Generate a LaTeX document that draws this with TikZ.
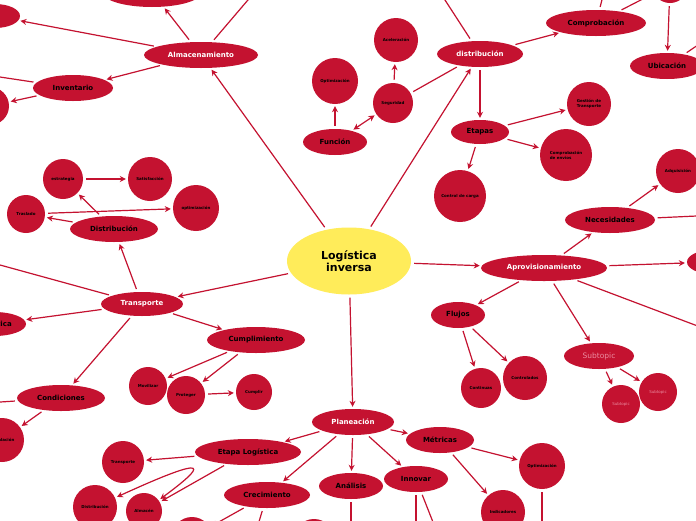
\documentclass[tikz,border=0pt]{standalone}
\usepackage{fontspec}
\setmainfont{DejaVu Sans}
\usetikzlibrary{shapes.geometric,arrows.meta}
\definecolor{mmred}{RGB}{196,18,48}
\definecolor{mmyellow}{RGB}{255,236,90}
\definecolor{mmpink}{RGB}{235,140,160}
\tikzset{
  en/.style={ellipse, fill=mmred, inner sep=0pt, font=\bfseries\fontsize{7}{8}\selectfont},
  wt/.style={text=white},
  bt/.style={text=black},
  cn/.style={circle, fill=mmred, inner sep=0pt, align=center, font=\bfseries\fontsize{4}{5}\selectfont},
  conn/.style={draw=mmred, line width=1.2pt, shorten <=3pt, shorten >=2pt, -{Stealth[length=6pt,width=6pt]}},
  biconn/.style={draw=mmred, line width=1.2pt, shorten <=2pt, shorten >=2pt, {Stealth[length=6pt,width=6pt]}-{Stealth[length=6pt,width=6pt]}},
  plain/.style={draw=mmred, line width=1.2pt, shorten <=3pt, shorten >=3pt},
}
\begin{document}
\begin{tikzpicture}[x=1pt,y=-1pt]
\useasboundingbox (0,0) rectangle (696,520);
\clip (0,0) rectangle (696,520);
\fill[white] (0,0) rectangle (696,520);

% centre
\node[ellipse, fill=mmyellow, inner sep=0pt, minimum width=124, minimum height=67, align=center, font=\bfseries\fontsize{11}{12}\selectfont] (ctr) at (349,261) {Logística\\inversa};

% Almacenamiento branch
\node[en,wt,minimum width=114,minimum height=26] (alm) at (201,55) {Almacenamiento};
\node[en,minimum width=100,minimum height=30] (topov) at (152,-8) {};
\node[en,minimum width=50,minimum height=24] (lftov) at (-5,16) {};
\node[en,bt,minimum width=80,minimum height=26] (inv) at (73,88) {Inventario};
\node[cn,minimum size=38] (lftc) at (-10,106) {};
\coordinate (offA) at (265,-20);
\coordinate (offInv) at (-40,71);

% Función cluster
\node[en,bt,minimum width=64,minimum height=26] (fun) at (335,142) {Función};
\node[cn,minimum size=46] (opt1) at (335,81) {Optimización};
\node[cn,minimum size=40] (seg) at (393,103) {Seguridad};
\node[cn,minimum size=44] (acel) at (396,40) {Aceleración};

% distribución branch
\node[en,wt,minimum width=86,minimum height=26] (dis) at (480,54) {distribución};
\coordinate (offD) at (432,-20);
\node[en,bt,minimum width=100,minimum height=26] (comp) at (596,23) {Comprobación};
\coordinate (offC) at (605,-12);
\node[cn,minimum size=36] (trc) at (670,-15) {};
\node[en,bt,minimum width=74,minimum height=26] (ubi) at (667,66) {Ubicación};
\coordinate (offU) at (720,30);
\node[en,bt,minimum width=58,minimum height=24] (eta) at (480,132) {Etapas};
\node[cn,minimum size=44,align=left] (gest) at (589,104) {Gestión de\\Transporte};
\node[cn,minimum size=52,align=left] (cenv) at (566,155) {Comprobación\\de envíos};
\node[cn,minimum size=52] (ccar) at (460,196) {Control de carga};

% Aprovisionamiento branch
\node[en,wt,minimum width=126,minimum height=26] (apr) at (544,268) {Aprovisionamiento};
\node[en,bt,minimum width=90,minimum height=26] (nec) at (610,220) {Necesidades};
\node[cn,minimum size=44] (adq) at (678,171) {Adquisición};
\coordinate (offN) at (740,214);
\node[en,minimum width=50,minimum height=24] (rov) at (712,262) {};
\coordinate (offAp) at (740,342);
\node[en,bt,minimum width=54,minimum height=26] (flu) at (458,315) {Flujos};
\node[cn,minimum size=40] (cont) at (481,388) {Continuas};
\node[cn,minimum size=44] (ctrl) at (525,378) {Controlados};
\node[en,minimum width=70,minimum height=26,font=\fontsize{7.5}{8}\selectfont,text=mmpink] (sub) at (599,356) {Subtopic};
\node[cn,minimum size=38,font=\fontsize{4}{5}\selectfont,text=mmpink] (sub1) at (621,404) {Subtopic};
\node[cn,minimum size=38,font=\fontsize{4}{5}\selectfont,text=mmpink] (sub2) at (658,392) {Subtopic};

% Transporte branch
\node[en,wt,minimum width=82,minimum height=24] (tra) at (142,304) {Transporte};
\node[en,bt,minimum width=88,minimum height=26] (dil) at (114,229) {Distribución};
\node[cn,minimum size=40] (est) at (63,179) {estrategia};
\node[cn,minimum size=44] (sat) at (150,179) {Satisfacción};
\node[cn,minimum size=46] (opt2) at (196,208) {optimización};
\node[cn,minimum size=38] (tras) at (26,214) {Traslado};
\coordinate (offT) at (-40,254);
\node[en,bt,minimum width=64,minimum height=24] (log) at (-6,324) {Logística};
\node[en,bt,minimum width=88,minimum height=26] (cond) at (61,398) {Condiciones};
\coordinate (offCo) at (-30,404);
\node[cn,minimum size=44] (inst) at (2,440) {Instalación};
\node[en,bt,minimum width=98,minimum height=26] (cum) at (256,340) {Cumplimiento};
\node[cn,minimum size=38] (mov) at (148,386) {Movilizar};
\node[cn,minimum size=38] (pro) at (186,395) {Proteger};
\node[cn,minimum size=36] (cpl) at (254,392) {Cumplir};

% Planeación branch
\node[en,wt,minimum width=82,minimum height=26] (pla) at (353,422) {Planeación};
\node[en,bt,minimum width=106,minimum height=26] (elog) at (248,452) {Etapa Logística};
\node[cn,minimum size=42] (trc2) at (123,462) {Transporte};
\node[cn,minimum size=44] (dis2) at (95,507) {Distribución};
\node[cn,minimum size=36] (almc) at (144,511) {Almacén};
\node[en,bt,minimum width=86,minimum height=26] (cre) at (267,495) {Crecimiento};
\node[cn,minimum size=40] (bc1) at (192,537) {};
\coordinate (offCr) at (252,545);
\node[cn,minimum size=40] (bc2) at (314,539) {};
\node[en,bt,minimum width=64,minimum height=26] (ana) at (351,486) {Análisis};
\coordinate (offAn) at (351,545);
\node[en,bt,minimum width=64,minimum height=26] (inn) at (416,479) {Innovar};
\coordinate (offI1) at (416,545);
\coordinate (offI2) at (442,545);
\node[en,bt,minimum width=68,minimum height=26] (met) at (440,440) {Métricas};
\node[cn,minimum size=46] (opt3) at (542,466) {Optimización};
\node[cn,minimum size=44] (ind) at (503,512) {Indicadores};
\coordinate (offO) at (542,545);

% connectors: centre
\draw[conn] (ctr) -- (alm);
\draw[conn] (ctr) -- (dis);
\draw[conn] (ctr) -- (apr);
\draw[conn] (ctr) -- (pla);
\draw[conn] (ctr) -- (tra);

% Almacenamiento
\draw[conn] (alm) -- (topov);
\draw[plain] (alm) -- (offA);
\draw[conn] (alm) -- (lftov);
\draw[conn] (alm) -- (inv);
\draw[plain] (inv) -- (offInv);
\draw[conn] (inv) -- (lftc);

% Función
\draw[conn] (fun) -- (opt1);
\draw[biconn] (fun) -- (seg);
\draw[conn] (seg) -- (acel);
\draw[plain] (seg) -- (dis);

% distribución
\draw[plain] (offD) -- (dis);
\draw[conn] (dis) -- (comp);
\draw[plain] (comp) -- (offC);
\draw[plain] (comp) -- (trc);
\draw[conn] (trc) -- (ubi);
\draw[plain] (ubi) -- (offU);
\draw[conn] (dis) -- (eta);
\draw[conn] (eta) -- (gest);
\draw[conn] (eta) -- (cenv);
\draw[conn] (eta) -- (ccar);

% Aprovisionamiento
\draw[conn] (apr) -- (nec);
\draw[conn] (nec) -- (adq);
\draw[plain] (nec) -- (offN);
\draw[conn] (apr) -- (rov);
\draw[plain] (apr) -- (offAp);
\draw[conn] (apr) -- (flu);
\draw[conn] (flu) -- (cont);
\draw[conn] (flu) -- (ctrl);
\draw[conn] (apr) -- (sub);
\draw[conn] (sub) -- (sub1);
\draw[conn] (sub) -- (sub2);

% Transporte
\draw[conn] (tra) -- (dil);
\draw[conn] (dil) -- (est);
\draw[conn] (est) -- (sat);
\draw[conn] (dil) -- (tras);
\draw[conn] (tras) -- (opt2);
\draw[plain] (tra) -- (offT);
\draw[conn] (tra) -- (log);
\draw[conn] (tra) -- (cond);
\draw[plain] (cond) -- (offCo);
\draw[conn] (cond) -- (inst);
\draw[conn] (tra) -- (cum);
\draw[conn] (cum) -- (mov);
\draw[conn] (cum) -- (pro);
\draw[conn] (pro) -- (cpl);

% Planeación
\draw[conn] (pla) -- (elog);
\draw[conn] (elog) -- (trc2);
\draw[conn] (elog) -- (almc);
\draw[biconn] (dis2) .. controls (215,452) and (205,466) .. (almc);
\draw[conn] (pla) -- (cre);
\draw[conn] (cre) -- (bc1);
\draw[plain] (cre) -- (offCr);
\draw[conn] (pla) -- (ana);
\draw[plain] (ana) -- (offAn);
\draw[conn] (pla) -- (inn);
\draw[plain] (inn) -- (offI1);
\draw[plain] (inn) -- (offI2);
\draw[conn] (pla) -- (met);
\draw[conn] (met) -- (opt3);
\draw[conn] (met) -- (ind);
\draw[plain] (opt3) -- (offO);
\end{tikzpicture}
\end{document}
